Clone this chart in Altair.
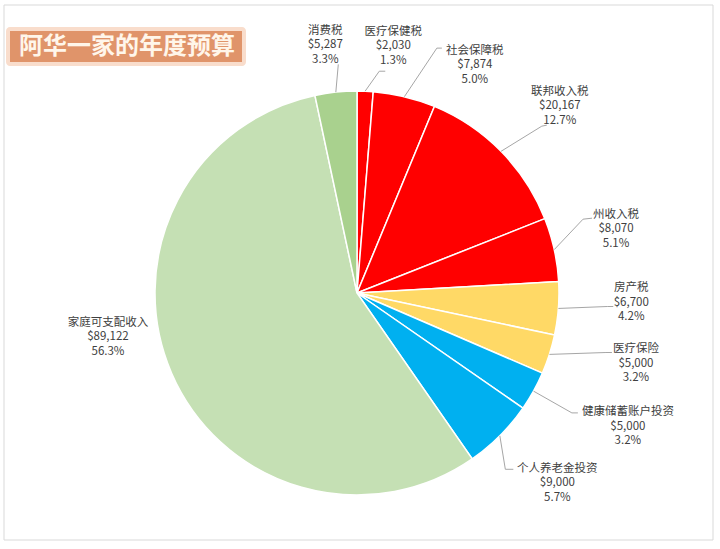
import altair as alt
import pandas as pd

# ---- data (clockwise from 12 o'clock) ----
CATEGORIES = ["医疗保健税", "社会保障税", "联邦收入税", "州收入税", "房产税",
              "医疗保险", "健康储蓄账户投资", "个人养老金投资", "家庭可支配收入", "消费税"]
VALUES = [2030, 7874, 20167, 8070, 6700, 5000, 5000, 9000, 89122, 5287]
TITLE = "阿华一家的年度预算"

# ---- style ----
COLORS = ["#FF0000", "#FF0000", "#FF0000", "#FF0000", "#FFD966",
          "#FFD966", "#00B0F0", "#00B0F0", "#C5E0B4", "#A9D18E"]

# ---- label layout nudges (pixels, relative to default polar label spot) ----
LAYOUT = {
    #  cat:          (ldx, ldy, elbow_x, elbow_y, attach_x, attach_y, line)
    "医疗保健税":     (26, 8, -14, 25, -8, 25, 1),
    "社会保障税":     (58, 20, -38, -17, -33, -17, 1),
    "联邦收入税":     (21, -8, -18, 20, -13, 19, 1),
    "州收入税":       (10, -9, -33, -10, -24, -11, 1),
    "房产税":         (20, -10, -24, 4, -18, 4, 1),
    "医疗保险":       (36, -7, -30, -11, -24, -11, 1),
    "健康储蓄账户投资": (48, 10, -56, -14, -50, -14, 1),
    "个人养老金投资":   (20, 10, -52, -14, -44, -14, 1),
    "家庭可支配收入":   (-15, -57, 0, 0, 0, 0, 0),
    "消费税":         (-5, 6, 13, 19, 13, 19, 1),
}

W, H = 720, 549
CX, CY = 357, 293
R = 202
RL = 255
LH = 14.5
FONT = "Noto Sans CJK SC"

df = pd.DataFrame({"category": CATEGORIES, "value": VALUES, "idx": list(range(len(CATEGORIES)))})
layout_df = pd.DataFrame(
    [{"category": k, "ldx": v[0], "ldy": v[1], "kx": v[2], "ky": v[3],
      "ax": v[4], "ay": v[5], "line": v[6]} for k, v in LAYOUT.items()]
)

xscale = alt.Scale(domain=[-CX, W - CX], range=[0, W], nice=False, zero=False)
yscale = alt.Scale(domain=[-CY, H - CY], range=[0, H], nice=False, zero=False)

arc = alt.Chart(df).mark_arc(outerRadius=R, stroke="white", strokeWidth=1.5).encode(
    theta=alt.Theta("value:Q", stack=True),
    color=alt.Color("category:N", scale=alt.Scale(domain=CATEGORIES, range=COLORS), legend=None),
    order=alt.Order("idx:Q", sort="ascending"),
    x=alt.value(CX),
    y=alt.value(CY),
)

base = (
    alt.Chart(df)
    .transform_window(cum="sum(value)", sort=[alt.SortField("idx")], frame=[None, 0])
    .transform_joinaggregate(total="sum(value)")
    .transform_calculate(mid="(datum.cum - datum.value/2) / datum.total * 2 * PI")
    .transform_lookup(lookup="category",
                      from_=alt.LookupData(data=layout_df, key="category",
                                           fields=["ldx", "ldy", "kx", "ky", "ax", "ay", "line"]))
    .transform_calculate(
        ex=f"{R} * sin(datum.mid)",
        ey=f"-{R} * cos(datum.mid)",
        lx=f"{RL} * sin(datum.mid) + datum.ldx",
        ly=f"-{RL} * cos(datum.mid) + datum.ldy",
    )
    .transform_calculate(
        bx="datum.lx + datum.kx",
        by="datum.ly + datum.ky",
        tx="datum.lx + datum.ax",
        ty="datum.ly + datum.ay",
        label="datum.category + '\\n$' + format(datum.value, ',') + '\\n' + format(datum.value / datum.total, '.1%')",
    )
)

lines = base.transform_filter("datum.line == 1")
seg1 = lines.mark_rule(color="#A6A6A6", strokeWidth=1).encode(
    x=alt.X("ex:Q", scale=xscale, axis=None),
    y=alt.Y("ey:Q", scale=yscale, axis=None),
    x2="bx:Q", y2="by:Q",
)
seg2 = lines.mark_rule(color="#A6A6A6", strokeWidth=1).encode(
    x=alt.X("bx:Q", scale=xscale, axis=None),
    y=alt.Y("by:Q", scale=yscale, axis=None),
    x2="tx:Q", y2="ty:Q",
)

labels = base.mark_text(
    lineBreak="\n", font=FONT, fontSize=11.5, lineHeight=LH, dy=-LH,
    color="#404040", align="center", baseline="middle",
).encode(
    x=alt.X("lx:Q", scale=xscale, axis=None),
    y=alt.Y("ly:Q", scale=yscale, axis=None),
    text="label:N",
)

one = alt.Data(values=[{}])
border = alt.Chart(one).mark_rect(fillOpacity=0, stroke="#D9D9D9", strokeWidth=1).encode(
    x=alt.value(4), x2=alt.value(713), y=alt.value(5), y2=alt.value(540)
)
glow = alt.Chart(one).mark_rect(fill="#F3BC9A", opacity=0.5, cornerRadius=4).encode(
    x=alt.value(6), x2=alt.value(246), y=alt.value(27), y2=alt.value(66)
)
tbox = alt.Chart(one).mark_rect(fill="#E0946A").encode(
    x=alt.value(10), x2=alt.value(242), y=alt.value(31), y2=alt.value(62)
)
ttext = alt.Chart(one).mark_text(
    text=TITLE, font=FONT, fontSize=24, fontWeight="bold", color="#FFF6EA",
    align="center", baseline="middle",
).encode(x=alt.value(127), y=alt.value(47))

chart = (
    alt.layer(border, arc, seg1, seg2, labels, glow, tbox, ttext)
    .properties(width=W, height=H, autosize="none", padding=0, background="white")
    .configure_view(stroke=None)
)

chart.save("out.html", embed_options={"renderer": "svg", "actions": False})
